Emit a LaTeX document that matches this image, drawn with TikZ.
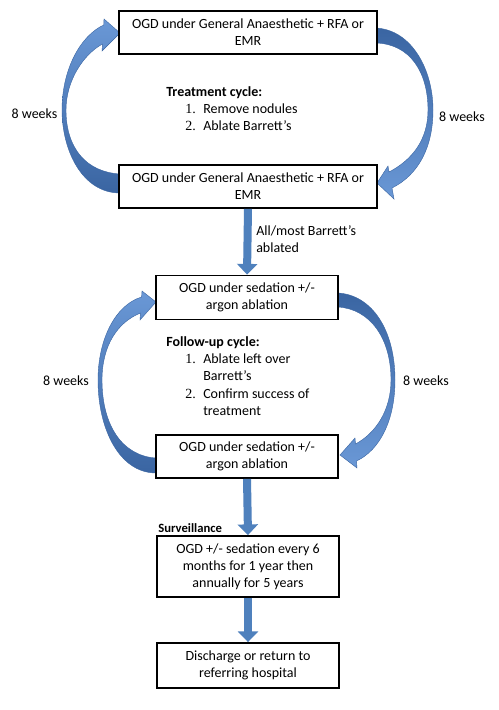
\documentclass[tikz,border=0pt]{standalone}
\usepackage{fontspec}
\setmainfont{Carlito}
\newfontfamily\numfont{Liberation Serif}
\usetikzlibrary{arrows.meta}
\definecolor{arrblue}{HTML}{4F81BD}
\definecolor{arrdark}{HTML}{3A65A2}
\definecolor{arrlight}{HTML}{6A98D6}
\begin{document}
\begin{tikzpicture}[x=0.75pt,y=-0.75pt,
  box/.style={draw=black, line width=1.4pt, fill=white, align=center, inner sep=0pt,
    font=\fontsize{10.5}{12.75}\selectfont},
  lbl/.style={anchor=west, inner sep=0pt, font=\fontsize{10.5}{12.75}\selectfont,
    text height=7pt, text depth=2pt},
  clbl/.style={inner sep=0pt, font=\fontsize{10.5}{12.75}\selectfont,
    text height=7pt, text depth=2pt},
  hdr/.style={lbl, font=\fontsize{10.5}{12.75}\selectfont\bfseries},
  num/.style={lbl, font=\fontsize{10.5}{12.75}\selectfont\numfont},
  blockarrow/.style={draw=arrblue, line width=6pt, -{Triangle[width=15pt,length=8pt]}},
  curvL/.style={top color=arrlight, bottom color=arrdark, draw=arrdark, line width=0.3pt},
  curvR/.style={top color=arrdark, bottom color=arrlight, draw=arrdark, line width=0.3pt}
]
\useasboundingbox (0,0) rectangle (499,710);
\fill[white] (0,0) rectangle (499,710);

% curved arrows, treatment cycle
\path[curvL] (120,193) .. controls (82,193) and (62,150) .. (62,110)
  .. controls (62,70) and (80,36) .. (103.7,25)
  -- (104,19) -- (120,33) -- (102,51) -- (102.5,44)
  .. controls (84,54) and (66,80) .. (66,110)
  .. controls (66,148) and (86,172) .. (120,174) -- cycle;
\path[curvR] (376,28) .. controls (412,30) and (433,70) .. (433,110)
  .. controls (433,148) and (418,175) .. (392,188)
  -- (394,199) -- (377,183) -- (388,166) -- (389,172)
  .. controls (412,160) and (428,140) .. (428,110)
  .. controls (428,72) and (410,44) .. (376,43) -- cycle;

% curved arrows, follow-up cycle
\path[curvL] (156,473) .. controls (120,473) and (98,430) .. (98,380)
  .. controls (98,340) and (115,305) .. (141.6,297)
  -- (142,291) -- (156,302) -- (140,320) -- (140.5,313)
  .. controls (118,322) and (102,345) .. (102,380)
  .. controls (102,425) and (122,456) .. (156,458) -- cycle;
\path[curvR] (338,293) .. controls (372,295) and (395,330) .. (395,380)
  .. controls (395,420) and (380,450) .. (356.5,461)
  -- (357,468) -- (340,455) -- (355,438) -- (355.5,444)
  .. controls (376,433) and (391,410) .. (391,380)
  .. controls (391,338) and (370,309) .. (338,307) -- cycle;

% boxes
\node[box, minimum width=193.5pt, minimum height=32.25pt] (b1) at (248,32.5)
  {OGD under General Anaesthetic + RFA or\\EMR};
\node[box, minimum width=193.5pt, minimum height=32.25pt] (b2) at (248,186.5)
  {OGD under General Anaesthetic + RFA or\\EMR};
\node[box, minimum width=136.5pt, minimum height=33pt] (b3) at (247,297.5)
  {OGD under sedation +/-\\argon ablation};
\node[box, minimum width=136.5pt, minimum height=32.25pt] (b4) at (247,456.5)
  {OGD under sedation +/-\\argon ablation};
\node[box, minimum width=136.5pt, minimum height=45.75pt] (b5) at (248,566.5)
  {OGD +/- sedation every 6\\months for 1 year then\\annually for 5 years};
\node[box, minimum width=136.5pt, minimum height=33.75pt] (b6) at (248,665.5)
  {Discharge or return to\\referring hospital};

% straight block arrows
\draw[blockarrow] (b2.south) -- (b3.north);
\draw[blockarrow] (b4.south) -- (b5.north);
\draw[blockarrow] (b5.south) -- (b6.north);

% labels
\node[clbl] (w1) at (34.5,115) {8 weeks};
\node[clbl] (w2) at (462,118) {8 weeks};
\node[clbl] (w3) at (66,382) {8 weeks};
\node[clbl] (w4) at (426,382) {8 weeks};

\node[hdr] (tc) at (166,93) {Treatment cycle:};
\node[num] (tc1n) at (185,110) {1.};
\node[lbl] (tc1) at (203,110) {Remove nodules};
\node[num] (tc2n) at (185,127) {2.};
\node[lbl] (tc2) at (203,127) {Ablate Barrett’s};

\node[lbl] (ab1) at (256,232) {All/most Barrett’s};
\node[lbl] (ab2) at (256,249) {ablated};

\node[hdr] (fc) at (166,343) {Follow-up cycle:};
\node[num] (fc1n) at (185,360) {1.};
\node[lbl] (fc1) at (203,360) {Ablate left over};
\node[lbl] (fc1b) at (203,377) {Barrett’s};
\node[num] (fc2n) at (185,395) {2.};
\node[lbl] (fc2) at (203,395) {Confirm success of};
\node[lbl] (fc2b) at (203,412) {treatment};

\node[lbl, font=\fontsize{9.5}{11}\selectfont\bfseries] (sv) at (158,529) {Surveillance};
\end{tikzpicture}
\end{document}
